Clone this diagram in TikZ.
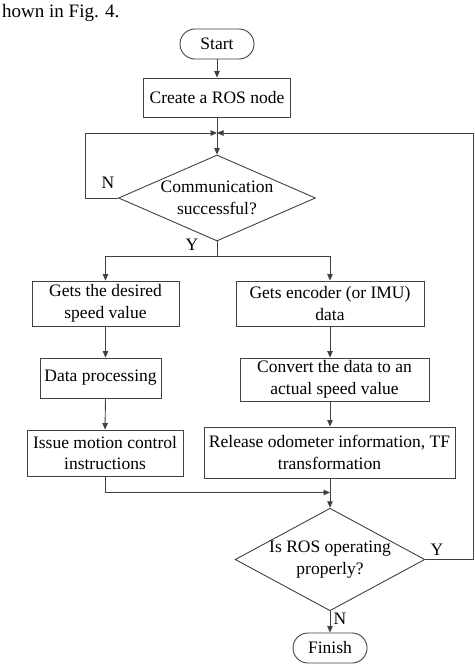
\documentclass[tikz,border=0pt]{standalone}
\usepackage{fontspec}
\setmainfont{Liberation Serif}
\usepackage{tikz}
\usetikzlibrary{shapes,shapes.geometric,arrows.meta,calc,positioning}
\tikzset{
  box/.style={draw=black!75, line width=0.9pt, align=center, inner sep=2pt,
  font=\fontsize{17.5}{21.5}\selectfont},
  terminal/.style={draw=black!75, line width=0.9pt, rounded corners=15pt,
  minimum width=74pt, minimum height=30pt, font=\fontsize{17.5}{21.5}\selectfont},
  decision/.style={diamond, draw=black!75, line width=0.9pt, align=center,
  inner sep=0pt, font=\fontsize{17.5}{21.5}\selectfont},
  line/.style={draw=black!75, line width=0.9pt},
  arrow/.style={line, -{Triangle[width=5.5pt,length=6.5pt]}},
  tag/.style={font=\fontsize{17.5}{21.5}\selectfont, inner sep=0pt}
}

\begin{document}
\begin{tikzpicture}[x=1pt,y=-1pt]
\useasboundingbox (0,0) rectangle (474,664);
\node[anchor=base west, inner sep=0pt, font=\fontsize{19}{23}\selectfont]
	(caption) at (2,17) {hown in Fig. 4.};
% top part
\node[terminal] (start) at (217,44) {Start};
\node[box, minimum width=147pt, minimum height=39pt] (create) at (217,97.5)
	{Create a ROS node};
\coordinate (join) at (217,133);
\node[decision, aspect=2.29, minimum width=197pt, minimum height=86pt] (comm)
	at (217,198) {Communication\\successful?};
\coordinate (split) at (217,256);
% left column
\node[box, minimum width=147pt, minimum height=45pt] (getspeed) at (105.5,303.5)
	{Gets the desired\\speed value};
\node[box, minimum width=121pt, minimum height=40pt] (dataproc) at (100.5,378)
	{Data processing};
\node[box, minimum width=156pt, minimum height=46pt] (issue) at (105,453)
	{Issue motion control\\instructions};
% right column
\node[box, minimum width=188pt, minimum height=45pt] (getenc) at (330,303.5)
	{Gets encoder (or IMU)\\data};
\node[box, minimum width=189pt, minimum height=43pt] (convert) at (334.5,379.5)
	{Convert the data to an\\actual speed value};
\node[box, minimum width=251pt, minimum height=51pt] (release) at (329.5,452.5)
	{Release odometer information, TF\\transformation};
% bottom part
\coordinate (merge) at (330,492.5);
\node[decision, aspect=1.85, minimum width=187pt, minimum height=101pt] (ros)
	at (330,559.5) {Is ROS operating\\properly?};
\node[terminal] (finish) at (330,648) {Finish};
% connectors
\draw[arrow] (start) -- (create);
\draw[arrow] (create) -- (comm.north);
\draw[arrow] (comm.west) -- (85,198) |- (join);
\draw[arrow] (ros.east) -- (473,559.5) |- (join);
\draw[line] (comm.south) -- (split);
\draw[arrow] (split) -| (getspeed.north);
\draw[arrow] (split) -| (getenc.north);
\draw[arrow] (getspeed.south) -- (getspeed.south |- dataproc.north);
\draw[arrow] (getspeed.south |- dataproc.south) -- (issue.north);
\draw[arrow] (getenc.south) -- (getenc.south |- convert.north);
\draw[arrow] (getenc.south |- convert.south) -- (release.north -| getenc.south);
\draw[arrow] (issue.south) |- (merge);
\draw[arrow] (release.south -| merge) -- (ros.north);
\draw[arrow] (ros.south) -- (finish.north);
% labels
\node[tag] (commno) at (108,183) {N};
\node[tag] (commyes) at (192,245) {Y};
\node[tag] (rosyes) at (437,550) {Y};
\node[tag] (rosno) at (340,619) {N};
\end{tikzpicture}
\end{document}
